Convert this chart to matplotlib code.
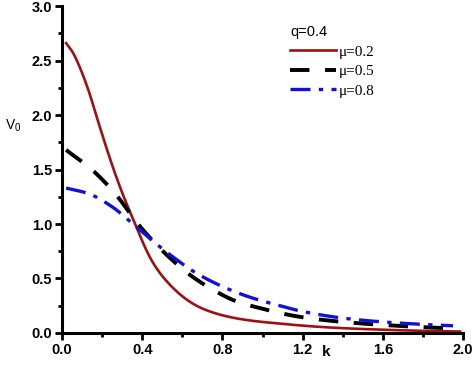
import numpy as np
import matplotlib
matplotlib.use("Agg")
import matplotlib.pyplot as plt
from matplotlib.ticker import MultipleLocator

# values
k_red = [0.02, 0.05, 0.081, 0.131, 0.173, 0.214, 0.264, 0.314, 0.36, 0.455, 0.539, 0.705, 0.87, 0.99, 1.07, 1.32, 1.65, 1.985]
v_red = [2.66, 2.585, 2.47, 2.23, 1.98, 1.74, 1.465, 1.22, 1.02, 0.64, 0.44, 0.22, 0.134, 0.103, 0.089, 0.052, 0.027, 0.013]

k_blk = [0.02, 0.148, 0.264, 0.39, 0.54, 0.64, 0.755, 0.87, 1.0, 1.2, 1.44, 1.69, 1.95]
v_blk = [1.68, 1.50, 1.28, 0.975, 0.685, 0.53, 0.394, 0.29, 0.222, 0.144, 0.095, 0.064, 0.042]

k_blu = [0.02, 0.13, 0.248, 0.347, 0.54, 0.655, 0.82, 0.954, 1.07, 1.2, 1.44, 1.69, 1.95]
v_blu = [1.33, 1.28, 1.16, 1.01, 0.716, 0.565, 0.41, 0.318, 0.258, 0.197, 0.128, 0.09, 0.066]

labels = ["\u03bc=0.2", "\u03bc=0.5", "\u03bc=0.8"]


def smooth(x, y, n=400):
    # monotone cubic (PCHIP) through the read points, done on log(v)
    x = np.asarray(x, float); y = np.log(np.asarray(y, float))
    xs = np.linspace(x[0], x[-1], n)
    h = np.diff(x); d = np.diff(y) / h
    m = np.zeros_like(y)
    for i in range(1, len(y) - 1):
        if d[i - 1] * d[i] > 0:
            w1 = 2 * h[i] + h[i - 1]; w2 = h[i] + 2 * h[i - 1]
            m[i] = (w1 + w2) / (w1 / d[i - 1] + w2 / d[i])
    m[0] = d[0]; m[-1] = d[-1]
    idx = np.clip(np.searchsorted(x, xs) - 1, 0, len(h) - 1)
    t = (xs - x[idx]) / h[idx]
    h00 = 2*t**3 - 3*t**2 + 1; h10 = t**3 - 2*t**2 + t
    h01 = -2*t**3 + 3*t**2; h11 = t**3 - t**2
    ys = h00*y[idx] + h10*h[idx]*m[idx] + h01*y[idx+1] + h11*h[idx]*m[idx+1]
    return xs, np.exp(ys)


plt.rcParams['font.family'] = ['Liberation Sans', 'DejaVu Sans']
fig = plt.figure(figsize=(4.74, 3.69), dpi=100)
ax = fig.add_axes([0.131, 0.0976, 0.846, 0.886])

x, y = smooth(k_red, v_red)
ax.plot(x, y, color="#a01010", lw=1.9, label=labels[0])
x, y = smooth(k_blk, v_blk)
ax.plot(x, y, color="black", lw=2.8, dashes=(5, 4), label=labels[1])
x, y = smooth(k_blu, v_blu)
ax.plot(x, y, color="#1010e0", lw=2.4, dashes=(6, 2.5, 1.3, 2.5), label=labels[2])

ax.set_xlim(0, 2.0)
ax.set_ylim(0, 3.0)
ax.xaxis.set_major_locator(MultipleLocator(0.4))
ax.xaxis.set_minor_locator(MultipleLocator(0.2))
ax.yaxis.set_major_locator(MultipleLocator(0.5))
ax.yaxis.set_minor_locator(MultipleLocator(0.25))
ax.xaxis.set_major_formatter(plt.FormatStrFormatter('%.1f'))
ax.yaxis.set_major_formatter(plt.FormatStrFormatter('%.1f'))

for s in ['top', 'right']:
    ax.spines[s].set_visible(False)
for s in ['left', 'bottom']:
    ax.spines[s].set_linewidth(2.2)
ax.tick_params(which='major', direction='out', length=5, width=2, labelsize=10.5, pad=2)
ax.tick_params(which='minor', direction='out', length=3, width=2)
for lab in ax.get_xticklabels() + ax.get_yticklabels():
    lab.set_fontweight('bold')

fig.text(0.028, 0.66, r"V$_\mathregular{0}$", fontsize=10, ha='center', va='center')
fig.text(0.688, 0.045, "k", fontsize=11, fontweight='bold', ha='center', va='center')

leg = ax.legend(loc='upper left', bbox_to_anchor=(0.612, 0.932), bbox_transform=fig.transFigure,
                frameon=False, borderpad=0, borderaxespad=0,
                title="q=0.4", title_fontsize=10.5, handlelength=3.0, handletextpad=0.2,
                labelspacing=0.38, prop={'family': 'Liberation Serif', 'size': 11})
leg._legend_box.align = "left"

fig.savefig("out.png", dpi=100)
